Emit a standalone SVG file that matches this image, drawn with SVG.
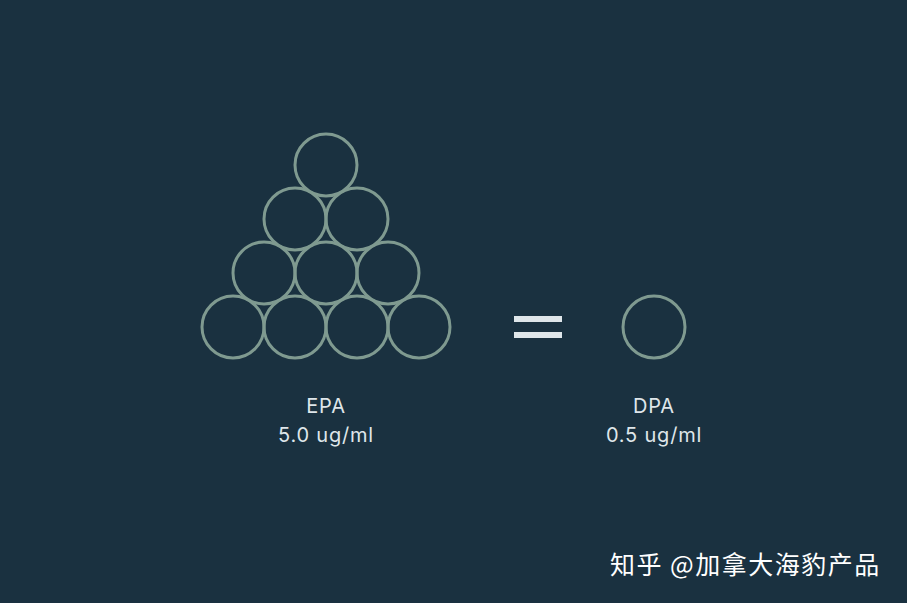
<svg xmlns="http://www.w3.org/2000/svg" width="907" height="603" viewBox="0 0 907 603">
<style>
.c{fill:none;stroke:#7f9a90;stroke-width:3}
.t{font-family:Inter,"Liberation Sans",sans-serif;font-size:20px;letter-spacing:0.8px;fill:#dfe6ea;text-anchor:middle}
.w{font-family:"Noto Sans CJK SC",sans-serif;font-size:25px;letter-spacing:1.5px;fill:#ffffff}
</style>
<rect width="907" height="603" fill="#1a3140"/>
<g id="epa">
<circle class="c" cx="326" cy="165" r="31"/>
<circle class="c" cx="295" cy="219" r="31"/>
<circle class="c" cx="357" cy="219" r="31"/>
<circle class="c" cx="264" cy="273" r="31"/>
<circle class="c" cx="326" cy="273" r="31"/>
<circle class="c" cx="388" cy="273" r="31"/>
<circle class="c" cx="233" cy="327" r="31"/>
<circle class="c" cx="295" cy="327" r="31"/>
<circle class="c" cx="357" cy="327" r="31"/>
<circle class="c" cx="419" cy="327" r="31"/>
<text class="t" x="326" y="413">EPA</text>
<text class="t" x="326" y="442">5.0 ug/ml</text>
</g>
<g id="eq" fill="#dfe6ea">
<rect x="514" y="316" width="48" height="6"/>
<rect x="514" y="332" width="48" height="6"/>
</g>
<g id="dpa">
<circle class="c" cx="654" cy="327" r="31"/>
<text class="t" x="654" y="413">DPA</text>
<text class="t" x="654" y="442">0.5 ug/ml</text>
</g>
<g id="connectors"/>
<text class="w" x="610" y="574">知乎 @加拿大海豹产品</text>
</svg>
